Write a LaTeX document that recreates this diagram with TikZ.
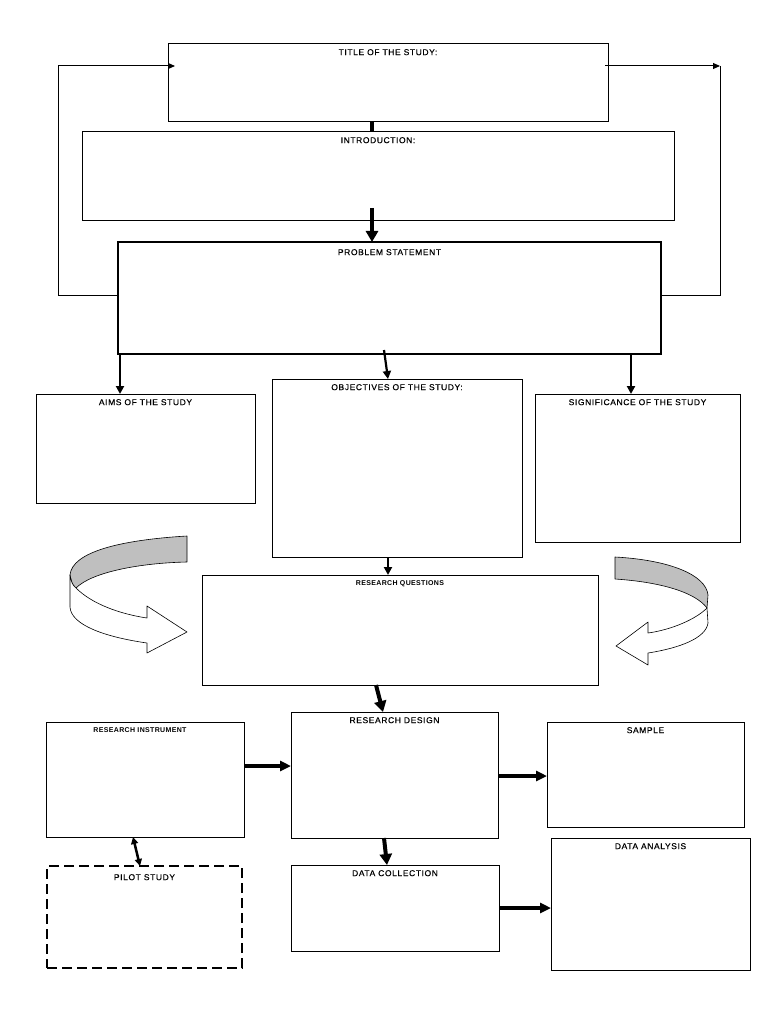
\documentclass[tikz,border=0pt]{standalone}
\usepackage{fontspec}
\setmainfont{Liberation Sans}
\newfontfamily\lblfont[LetterSpace=7,FakeBold=0.4]{Liberation Sans}
\newfontfamily\smallfont[LetterSpace=5]{Liberation Sans}
\usetikzlibrary{arrows.meta}

\begin{document}
\begin{tikzpicture}[x=1pt,y=-1pt]
    \tikzstyle{box}=[draw=black,line width=1pt,inner sep=0pt,outer sep=0pt]
    \tikzstyle{heading}=[anchor=north,yshift=-4pt,inner sep=1pt,font=\lblfont\fontsize{8.5}{10}\selectfont]
    \tikzstyle{smallheading}=[heading,font=\smallfont\bfseries\fontsize{7}{8}\selectfont]
    \tikzstyle{looparrow}=[line width=1pt,-{Triangle[length=7pt,width=6pt]}]
    \tikzstyle{midarrow}=[line width=2.2pt,-{Triangle[length=8pt,width=8pt]}]
    \tikzstyle{sidearrow}=[line width=3.5pt,-{Triangle[length=11pt,width=10pt]}]
    \tikzstyle{thickarrow}=[line width=4pt,-{Triangle[length=11pt,width=12pt]}]
    \tikzstyle{ribbon}=[draw=black,line width=0.6pt,line join=round]
    \useasboundingbox (0,0) rectangle (768,1024);

    \foreach \nm/\cx/\cy/\w/\h/\txt in {title/388/83/440/78/{TITLE OF THE STUDY:},
            intro/378/176.5/592/89/{INTRODUCTION:},
            aims/145.5/448.5/219/109/{AIMS OF THE STUDY},
            objectives/397/468/250/178/{OBJECTIVES OF THE STUDY:},
            significance/637.5/468/205/148/{SIGNIFICANCE OF THE STUDY},
            design/394.5/775/207/126/{RESEARCH DESIGN},
            sample/645.5/774.5/197/105/{SAMPLE},
            collection/395/908/208/86/{DATA COLLECTION},
            analysis/650.5/904/199/132/{DATA ANALYSIS}}
        \node[box,minimum width=\w pt,minimum height=\h pt,label={[heading]north:\txt}] (\nm) at (\cx,\cy) {};

    \node[box,line width=2.6pt,minimum width=543pt,minimum height=112pt,
        label={[heading,yshift=-2pt]north:PROBLEM STATEMENT}] (problem) at (389.5,298) {};
    \node[box,minimum width=396pt,minimum height=110pt,
        label={[smallheading]north:RESEARCH QUESTIONS}] (questions) at (400,630) {};
    \node[box,minimum width=198pt,minimum height=115pt,
        label={[smallheading,xshift=-5pt]north:RESEARCH INSTRUMENT}] (instrument) at (145,779.5) {};
    \node[box,line width=2.5pt,dash pattern=on 10pt off 5pt,minimum width=195pt,minimum height=102pt,
        label={[heading,yshift=-3pt]north:PILOT STUDY}] (pilot) at (144.5,917) {};

    % loops round the problem statement
    \coordinate (lcorner) at (58,66);
    \coordinate (rcorner) at (720,66);
    \draw[looparrow] ([yshift=3pt]problem.west) -| (lcorner) -- ([xshift=7pt]title.west |- lcorner);
    \draw[looparrow] ([xshift=-3pt]title.east |- rcorner) -- (rcorner);
    \draw[line width=1pt] (rcorner) |- ([yshift=3pt]problem.east);

    \draw[line width=3.5pt] ([xshift=-16pt]title.south) -- ([xshift=-6pt]intro.north);
    \draw[thickarrow] ([xshift=-6pt,yshift=13pt]intro.south) -- ([xshift=-17.5pt]problem.north);

    \draw[midarrow] ([xshift=2pt]problem.south west) -- ([xshift=2pt]problem.south west |- aims.north);
    \draw[midarrow] ([xshift=-5.5pt,yshift=4pt]problem.south) -- ([xshift=-9pt]objectives.north);
    \draw[midarrow] ([xshift=-30pt]problem.south east) -- ([xshift=-30pt]problem.south east |- significance.north);
    \draw[midarrow] ([xshift=-9pt]objectives.south) -- ([xshift=-12pt]questions.north);

    \draw[thickarrow] ([xshift=-24pt]questions.south) -- ([xshift=-11.5pt]design.north);
    \draw[sidearrow] ([yshift=13.5pt]instrument.east) -- ([yshift=9pt]design.west);
    \draw[sidearrow] ([yshift=-1pt]design.east) -- ([yshift=-1.5pt]sample.west);
    \draw[thickarrow] ([xshift=-10.5pt]design.south) -- ([xshift=-8pt]collection.north);
    \draw[sidearrow] (collection.east) -- ([yshift=-4pt]analysis.west);
    \draw[line width=2.5pt,{Triangle[length=7pt,width=7pt]}-{Triangle[length=7pt,width=7pt]}]
        ([xshift=-12pt]instrument.south) -- ([xshift=-4.5pt]pilot.north);

    % turning arrows beside the research questions
    \draw[ribbon,fill=gray!50] (70,575) .. controls (72,552) and (120,540) .. (187,536) -- (187,562)
        .. controls (140,563) and (92,572) .. (76,588) .. controls (72,584) .. (70,575) -- cycle;
    \draw[ribbon,fill=white] (76,588) .. controls (92,604) and (120,614) .. (147,618) -- (147,606)
        -- (187,632) -- (147,653) -- (147,643) .. controls (105,637) and (71,625) .. (70,607)
        -- (70,575) .. controls (72,584) .. (76,588) -- cycle;
    \draw[ribbon,fill=gray!50] (615,557) .. controls (670,560) and (706,575) .. (708,595) -- (707,608)
        .. controls (695,592) and (660,582) .. (615,579) -- cycle;
    \draw[ribbon,fill=white] (707,608) .. controls (695,620) and (670,630) .. (648,633) -- (648,622)
        -- (616,646) -- (648,665) -- (648,653) .. controls (680,648) and (706,638) .. (708,623) -- cycle;
\end{tikzpicture}
\end{document}
